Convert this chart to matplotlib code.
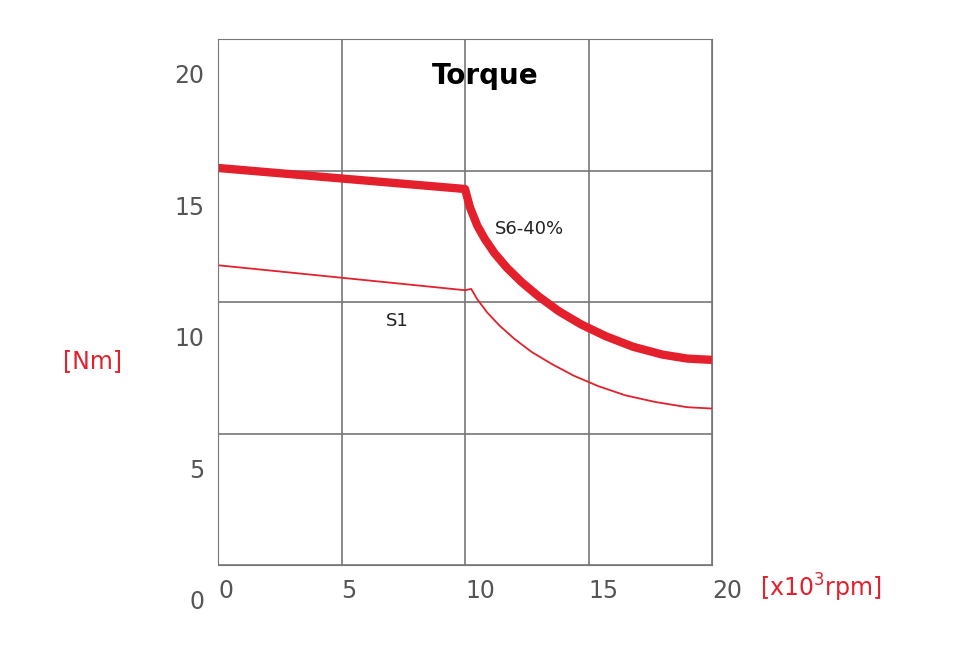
import matplotlib.pyplot as plt
import matplotlib.transforms as mtrans

# speed in x10^3 rpm, torque in Nm
s6_rpm = [0, 10, 10.2, 10.5, 10.8, 11.2, 11.7, 12.3, 13, 13.8, 14.7, 15.7, 16.8, 18, 19, 20]
s6_nm = [15.1, 14.3, 13.6, 12.9, 12.4, 11.85, 11.3, 10.75, 10.2, 9.65, 9.15, 8.7, 8.3, 8.0, 7.85, 7.8]
s1_rpm = [0, 10, 10.25, 10.5, 10.9, 11.4, 12, 12.7, 13.5, 14.4, 15.4, 16.5, 17.7, 19, 20]
s1_nm = [11.4, 10.45, 10.5, 10.1, 9.6, 9.1, 8.6, 8.1, 7.65, 7.2, 6.8, 6.45, 6.2, 6.0, 5.95]

red = '#e3202c'
grey = '#555555'

fig = plt.figure(figsize=(9.75, 6.5), dpi=100)
ax = fig.add_axes([0.2236, 0.1308, 0.5067, 0.809])
ax.plot(s6_rpm, s6_nm, color=red, lw=6, solid_capstyle='butt', solid_joinstyle='round')
ax.plot(s1_rpm, s1_nm, color=red, lw=1.3)
ax.set_xlim(0, 20); ax.set_ylim(0, 20)
ax.set_xticks([0, 5, 10, 15, 20]); ax.set_yticks([0, 5, 10, 15, 20])
ax.grid(True, color='#777777', lw=1.2)
for s in ax.spines.values():
    s.set_color('#777777')
ax.tick_params(length=0, labelsize=17, labelcolor=grey, pad=10)
shift = mtrans.ScaledTranslation(0, -0.25, fig.dpi_scale_trans)
for lbl in ax.get_yticklabels():
    lbl.set_verticalalignment('top')
    lbl.set_transform(lbl.get_transform() + shift)
for lbl in ax.get_xticklabels():
    lbl.set_horizontalalignment('left')
ax.text(10.8, 18.6, 'Torque', fontsize=20, fontweight='bold', ha='center', va='center')
ax.text(11.2, 12.6, 'S6-40%', fontsize=13, color='#222222')
ax.text(6.8, 9.1, 'S1', fontsize=13, color='#222222')
fig.text(0.095, 0.445, '[Nm]', fontsize=17, color=red, ha='center', va='center')
fig.text(0.78, 0.095, '[x10$^3$rpm]', fontsize=17, color=red, ha='left', va='center')
fig.savefig('out.png', dpi=100)
